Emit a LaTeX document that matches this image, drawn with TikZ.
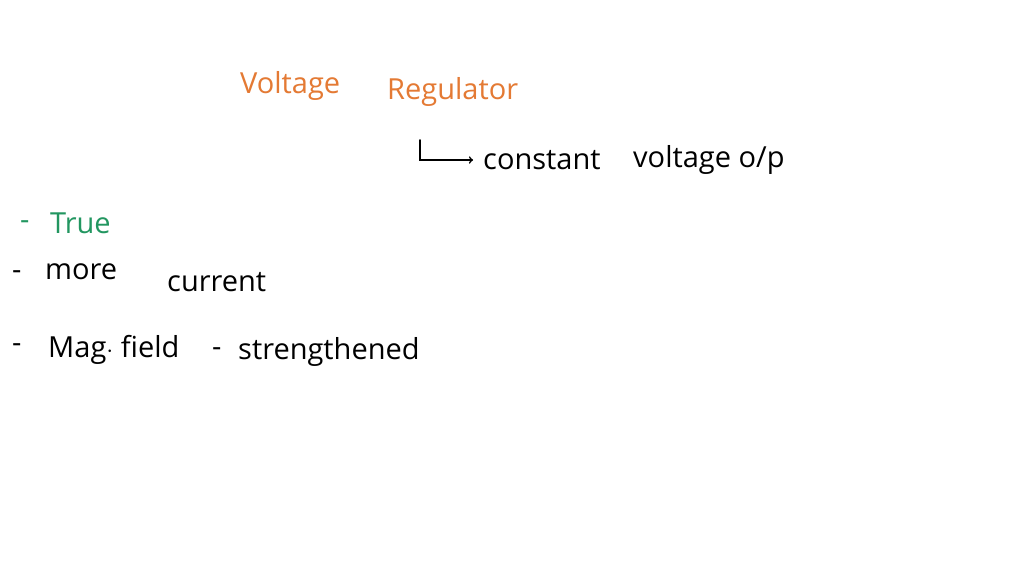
\documentclass[tikz,border=0pt]{standalone}
\usepackage{fontspec}
\setmainfont{Open Sans}
\begin{document}
\begin{tikzpicture}[x=1pt,y=-1pt,
 txt/.style={anchor=west,inner sep=0pt,font=\fontsize{29}{31}\selectfont},
 ora/.style={txt,text=orangeC},
 grn/.style={txt,text=greenC},
 pen/.style={line width=1.6pt,line cap=round}]
\definecolor{orangeC}{RGB}{228,122,52}
\definecolor{greenC}{RGB}{34,150,96}
\useasboundingbox (0,0) rectangle (1024,576);
\fill[white] (0,0) rectangle (1024,576);
\node[ora] (volt) at (240,86) {Voltage};
\node[ora] (reg) at (387,92) {Regulator};
\coordinate (a0) at (420,140);
\coordinate (a1) at (420,160);
\node[txt] (cv) at (483,160) {constant};
\node[txt] (vo) at (633,160) {voltage o/p};
\draw[pen,->] (a0) -- (a1) -- ([xshift=-10pt]cv.west);
\node[grn] (d1) at (20,225) {-};
\node[grn] (tr) at (50,223) {True};
\node[txt] (d2) at (12,275) {-};
\node[txt] (more) at (45,272) {more};
\node[txt] (cur) at (167,282) {current};
\node[txt] (d3) at (12,348) {-};
\node[txt] (mag) at (48,350) {Mag$\cdot$\ field};
\node[txt] (d4) at (212,352) {-};
\node[txt] (str) at (238,352) {strengthened};
\end{tikzpicture}
\end{document}
